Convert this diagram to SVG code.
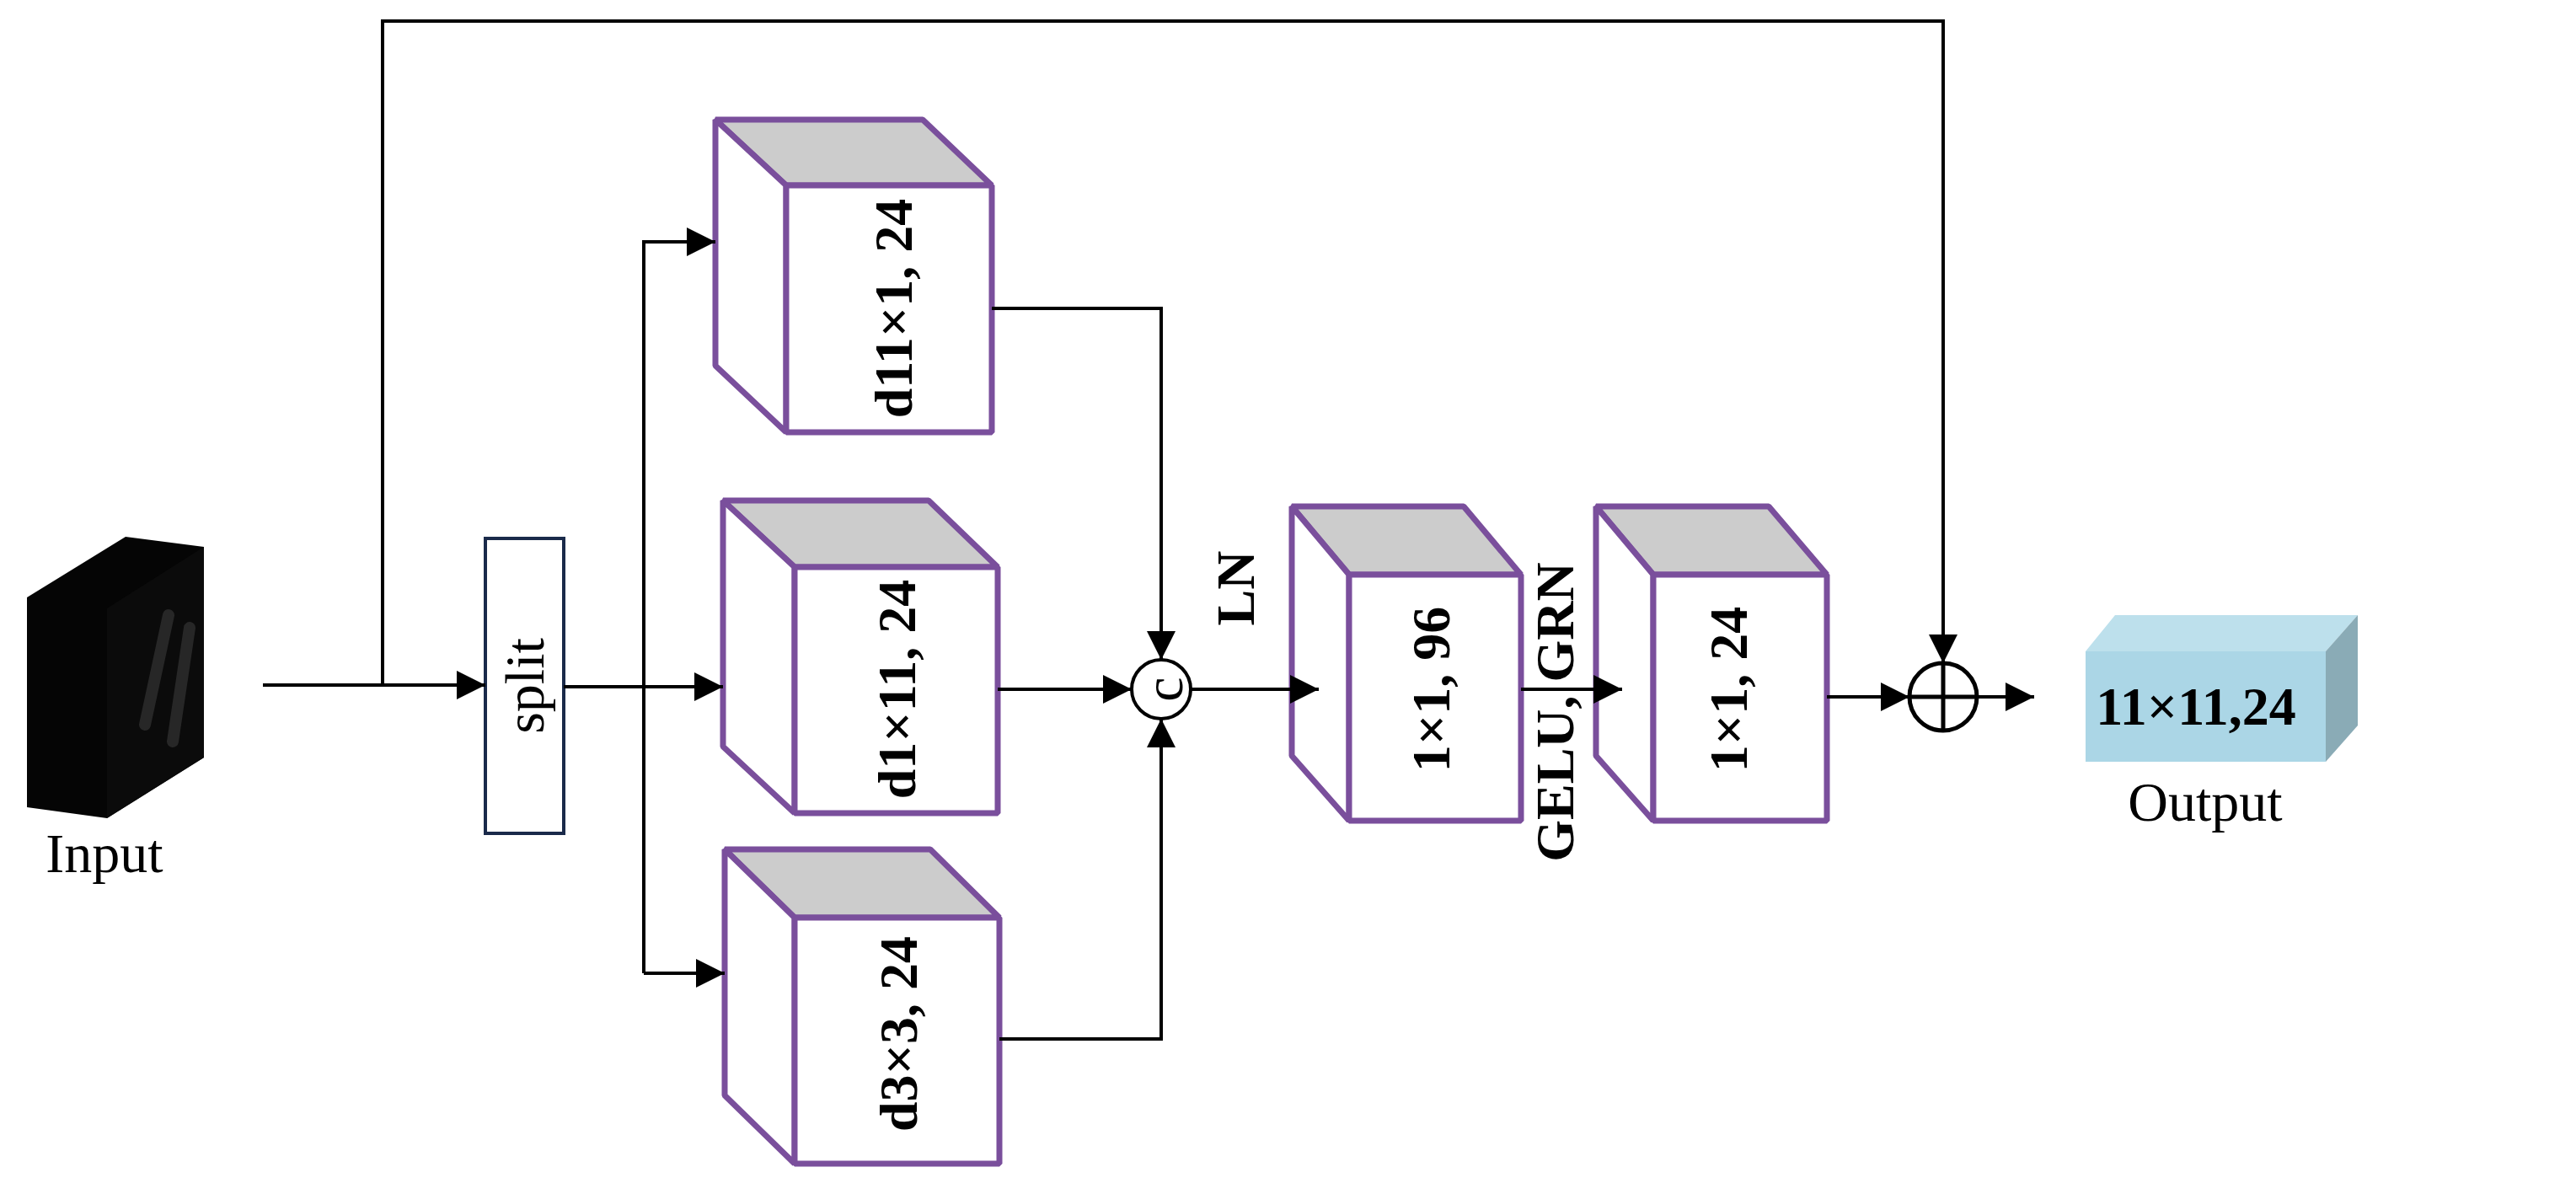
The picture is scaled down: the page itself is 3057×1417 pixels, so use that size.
<svg xmlns="http://www.w3.org/2000/svg" width="3057" height="1417" viewBox="0 0 3057 1417">
<style>
.ln{stroke:#000;stroke-width:4;fill:none}
.cb{stroke:#7a4f9c;stroke-width:7;stroke-linejoin:bevel}
.top{fill:#cccccc}
.fr{fill:#fff}
.lb{font-family:"Liberation Serif",serif;font-weight:bold;font-size:64px;fill:#000}
.tx{font-family:"Liberation Serif",serif;font-size:66px;fill:#000}
</style>
<defs>
<marker id="ar" viewBox="0 0 10 10" refX="10" refY="5" markerWidth="36" markerHeight="34" markerUnits="userSpaceOnUse" orient="auto">
<path d="M0,0L10,5L0,10z" fill="#000"/>
</marker>
</defs>
<g id="input">
<polygon points="32,709 149,637 242,649 242,899 127,971 32,958" fill="#050505"/>
<polygon points="127,722 242,649 242,899 127,971" fill="#0b0b0b"/>
<path d="M172,860 L200,730 M205,880 L225,745" stroke="#2e2e2e" stroke-width="14" stroke-linecap="round" opacity="0.8"/>
<text class="tx" x="124" y="1035" text-anchor="middle">Input</text>
</g>
<g id="split">
<rect x="576" y="639" width="93" height="350" fill="#fff" stroke="#1a2a4a" stroke-width="4"/>
<text class="tx" transform="translate(622,814) rotate(-90)" text-anchor="middle" dominant-baseline="central" font-size="58">split</text>
</g>
<g id="cube-d11">
<polygon class="cb top" points="849,142 1095,142 1177,220 933,220"/>
<polygon class="cb fr" points="849,142 933,220 933,513 849,434"/>
<rect class="cb fr" x="933" y="220" width="244" height="293"/>
<text class="lb" transform="translate(1060,366) rotate(-90)" text-anchor="middle" dominant-baseline="central">d11×1, 24</text>
</g>
<g id="cube-d1">
<polygon class="cb top" points="858,594 1102,594 1184,673 943,673"/>
<polygon class="cb fr" points="858,594 943,673 943,965 858,886"/>
<rect class="cb fr" x="943" y="673" width="241" height="292"/>
<text class="lb" transform="translate(1064,818) rotate(-90)" text-anchor="middle" dominant-baseline="central">d1×11, 24</text>
</g>
<g id="cube-d3">
<polygon class="cb top" points="860,1008 1104,1008 1186,1089 943,1089"/>
<polygon class="cb fr" points="860,1008 943,1089 943,1381 860,1300"/>
<rect class="cb fr" x="943" y="1089" width="243" height="292"/>
<text class="lb" transform="translate(1066,1227) rotate(-90)" text-anchor="middle" dominant-baseline="central">d3×3, 24</text>
</g>
<g id="concat">
<circle cx="1378" cy="818" r="35" fill="#fff" stroke="#000" stroke-width="4"/>
<text class="tx" transform="translate(1380,818) rotate(-90)" text-anchor="middle" dominant-baseline="central" font-size="48">c</text>
</g>
<g id="cube-96">
<polygon class="cb top" points="1533,601 1737,601 1805,682 1601,682"/>
<polygon class="cb fr" points="1533,601 1601,682 1601,974 1533,897"/>
<rect class="cb fr" x="1601" y="682" width="204" height="292"/>
<text class="lb" transform="translate(1698,818) rotate(-90)" text-anchor="middle" dominant-baseline="central">1×1, 96</text>
</g>
<g id="cube-24">
<polygon class="cb top" points="1894,601 2099,601 2168,682 1962,682"/>
<polygon class="cb fr" points="1894,601 1962,682 1962,974 1894,897"/>
<rect class="cb fr" x="1962" y="682" width="206" height="292"/>
<text class="lb" transform="translate(2051,818) rotate(-90)" text-anchor="middle" dominant-baseline="central">1×1, 24</text>
</g>
<g id="add">
<circle cx="2306" cy="827" r="40" fill="#fff" stroke="#000" stroke-width="5"/>
<path d="M2266,827H2346M2306,787V867" stroke="#000" stroke-width="5"/>
</g>
<g id="output">
<polygon points="2475,773 2510,730 2798,730 2760,773" fill="#bde0ec"/>
<polygon points="2760,773 2798,730 2798,861 2760,904" fill="#8aabb6"/>
<rect x="2475" y="773" width="285" height="131" fill="#abd6e6"/>
<text class="lb" x="2606" y="860" text-anchor="middle" font-size="62">11×11,24</text>
<text class="tx" x="2617" y="974" text-anchor="middle" font-size="64">Output</text>
</g>
<g id="labels">
<text class="lb" transform="translate(1466,698) rotate(-90)" text-anchor="middle" dominant-baseline="central" font-size="60">LN</text>
<text class="lb" transform="translate(1845,845) rotate(-90)" text-anchor="middle" dominant-baseline="central" font-size="60">GELU, GRN</text>
</g>
<g id="connectors" class="ln">
<path d="M312,813 H576" marker-end="url(#ar)"/>
<path d="M454,815 V25 H2306 V787" marker-end="url(#ar)"/>
<path d="M669,815 H858" marker-end="url(#ar)"/>
<path d="M764,1155 V287 H849" marker-end="url(#ar)"/>
<path d="M764,1155 H860" marker-end="url(#ar)"/>
<path d="M1177,366 H1378 V783" marker-end="url(#ar)"/>
<path d="M1184,818 H1343" marker-end="url(#ar)"/>
<path d="M1186,1233 H1378 V853" marker-end="url(#ar)"/>
<path d="M1413,818 H1565" marker-end="url(#ar)"/>
<path d="M1805,818 H1925" marker-end="url(#ar)"/>
<path d="M2168,827 H2266" marker-end="url(#ar)"/>
<path d="M2346,827 H2414" marker-end="url(#ar)"/>
</g>
</svg>
